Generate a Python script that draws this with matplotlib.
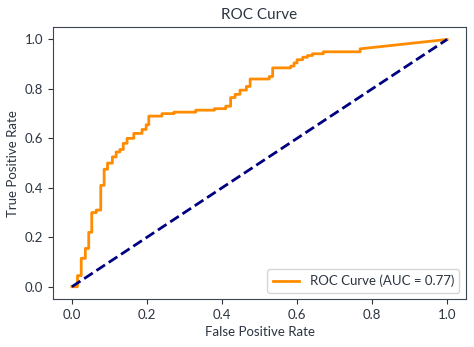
import matplotlib
matplotlib.use("Agg")
import matplotlib.pyplot as plt

plt.rcParams['font.family'] = ['Lato', 'DejaVu Sans']

text_color = '#2b3440'

# step points where the ROC curve rises (fpr, tpr reached at that fpr)
step_fpr = [0.0, 0.015, 0.025, 0.036, 0.045, 0.053, 0.065, 0.077, 0.086, 0.095,
            0.108, 0.118, 0.128, 0.137, 0.147, 0.165, 0.187, 0.198, 0.205, 0.24,
            0.272, 0.33, 0.38, 0.41, 0.423, 0.435, 0.448, 0.465, 0.475, 0.526,
            0.535, 0.583, 0.592, 0.60, 0.615, 0.628, 0.641, 0.67, 0.768]
step_tpr = [0.0, 0.045, 0.115, 0.155, 0.22, 0.30, 0.31, 0.41, 0.475, 0.50,
            0.525, 0.545, 0.555, 0.58, 0.60, 0.62, 0.636, 0.655, 0.69, 0.70,
            0.706, 0.714, 0.72, 0.73, 0.765, 0.778, 0.795, 0.81, 0.84, 0.85,
            0.885, 0.892, 0.905, 0.918, 0.928, 0.935, 0.942, 0.95, 0.962]
roc_auc = 0.77

# corner points like roc_curve output
fpr, tpr = [step_fpr[0]], [step_tpr[0]]
for i in range(1, len(step_fpr)):
    fpr += [step_fpr[i], step_fpr[i]]
    tpr += [step_tpr[i - 1], step_tpr[i]]
fpr.append(1.0)
tpr.append(1.0)

fig = plt.figure(figsize=(4.74, 3.47), dpi=100)
ax = fig.add_axes([0.112, 0.138, 0.871, 0.784])

ax.plot(fpr, tpr, color='darkorange', lw=2, label=f'ROC Curve (AUC = {roc_auc:.2f})')
ax.plot([0, 1], [0, 1], color='navy', lw=2, linestyle='--')

ax.set_xlim(-0.05, 1.05)
ax.set_ylim(-0.05, 1.05)
ax.set_xticks([0, 0.2, 0.4, 0.6, 0.8, 1.0])
ax.set_yticks([0, 0.2, 0.4, 0.6, 0.8, 1.0])

ax.set_title('ROC Curve', fontsize=11, color=text_color)
ax.set_xlabel('False Positive Rate', fontsize=9.5, color=text_color)
ax.set_ylabel('True Positive Rate', fontsize=9.5, color=text_color)
ax.tick_params(colors=text_color, labelsize=9.5)
for s in ax.spines.values():
    s.set_color('#3d4550')

leg = ax.legend(loc='lower right', fontsize=9.5)
for t in leg.get_texts():
    t.set_color(text_color)

fig.savefig('out.png', dpi=100)
